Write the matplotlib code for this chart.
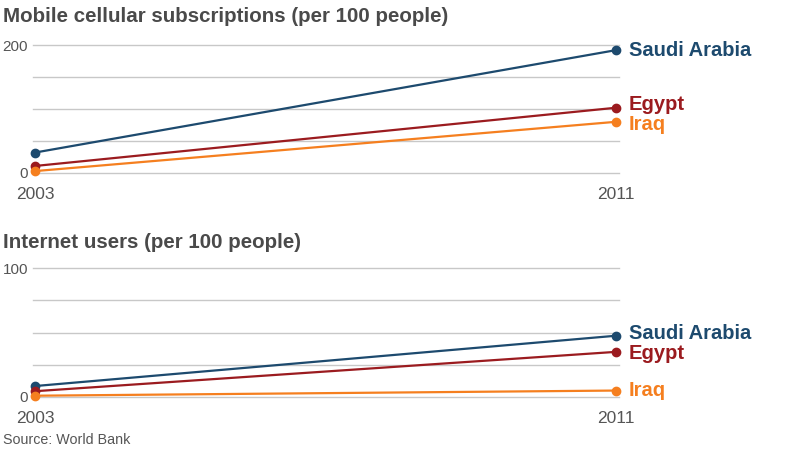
import matplotlib
matplotlib.use("Agg")
from matplotlib import pyplot as plt

years = [2003, 2011]
countries = ["Saudi Arabia", "Egypt", "Iraq"]
colors = ["#1d4a6e", "#9b1b1f", "#f57f1f"]

mobile = {
    "Saudi Arabia": [32, 192],
    "Egypt": [11, 102],
    "Iraq": [3, 80],
}
internet = {
    "Saudi Arabia": [8.5, 47.5],
    "Egypt": [4.5, 35],
    "Iraq": [1, 5],
}

plt.rcParams["font.family"] = ["Liberation Sans", "DejaVu Sans"]

W, H = 800, 450
fig = plt.figure(figsize=(8, 4.5), dpi=100)
fig.patch.set_facecolor("white")


def px_axes(x0, y0, x1, y1):
    # pixel box (top-down image coords) -> figure axes
    return fig.add_axes([x0 / W, (H - y1) / H, (x1 - x0) / W, (y1 - y0) / H])


def panel(ax, data, ymax, step, label_dy):
    for c, col in zip(countries, colors):
        ax.plot(years, data[c], color=col, lw=1.6, marker="o", ms=6,
                clip_on=False, zorder=3)
        ax.annotate(c, (years[-1], data[c][-1]), xytext=(9, label_dy[c]),
                    textcoords="offset points", va="center", ha="left",
                    color=col, fontsize=14.5, fontweight="bold",
                    annotation_clip=False)
    ax.set_xlim(2002.97, 2011.04)
    ax.set_ylim(0, ymax)
    ticks = [i * step for i in range(int(ymax / step) + 1)]
    for t in ticks:
        ax.axhline(t, color="#c8c8c8", lw=1, zorder=1, clip_on=False)
    ax.set_yticks([0, ymax])
    ax.set_yticklabels(["0", str(ymax)])
    ax.set_xticks(years)
    ax.set_xticklabels([str(y) for y in years])
    ax.tick_params(length=0, colors="#555555")
    ax.tick_params(axis="y", pad=3.5, labelsize=11)
    ax.tick_params(axis="x", pad=10, labelsize=12.5)
    for s in ax.spines.values():
        s.set_visible(False)
    ax.set_facecolor("none")


ax1 = px_axes(33, 45, 619, 173)
panel(ax1, mobile, 200, 50,
      {"Saudi Arabia": 0, "Egypt": 2, "Iraq": -2})

ax2 = px_axes(33, 268, 619, 397)
panel(ax2, internet, 100, 25,
      {"Saudi Arabia": 1.5, "Egypt": -1.5, "Iraq": 0})

fig.text(3 / W, 1 - 17 / H, "Mobile cellular subscriptions (per 100 people)",
         fontsize=14.8, fontweight="bold", color="#4a4a4a", va="center")
fig.text(3 / W, 1 - 242 / H, "Internet users (per 100 people)",
         fontsize=14.8, fontweight="bold", color="#4a4a4a", va="center")
fig.text(3 / W, 1 - 440 / H, "Source: World Bank",
         fontsize=10.3, color="#555555", va="center")

fig.savefig("out.png", dpi=100)
